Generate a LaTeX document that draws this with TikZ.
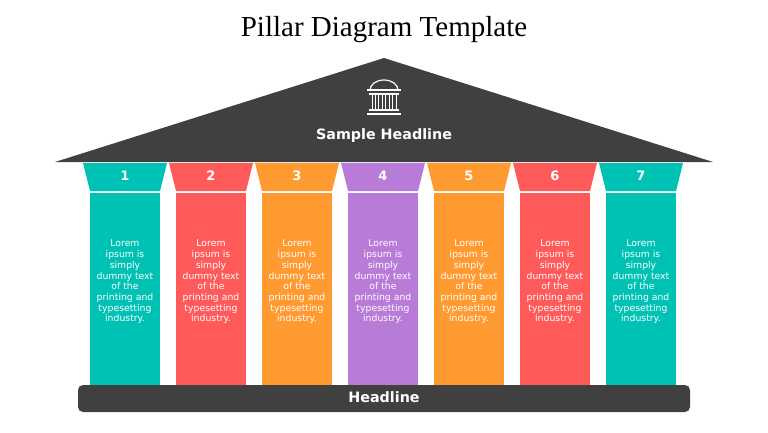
\documentclass[tikz,border=0pt]{standalone}
\usepackage{fontspec}
\setmainfont{DejaVu Sans}
\newfontfamily\titlefont{Liberation Serif}
\definecolor{cteal}{RGB}{0,194,180}
\definecolor{cred}{RGB}{255,90,90}
\definecolor{corange}{RGB}{255,154,48}
\definecolor{cpurple}{RGB}{185,123,216}
\definecolor{cdark}{RGB}{64,64,64}
\tikzset{
  body/.style={font=\fontsize{9.3}{10.7}\selectfont, text=white, align=center},
  num/.style={font=\fontsize{13}{15}\selectfont\bfseries, text=white},
  head/.style={font=\fontsize{14.3}{16}\selectfont\bfseries, text=white},
}
\begin{document}
\begin{tikzpicture}[x=1pt,y=-1pt]
\useasboundingbox (0,0) rectangle (768,433);
\node[font=\titlefont\fontsize{29}{32}\selectfont] (title) at (384,30) {Pillar Diagram Template};
\fill[cdark] (384,58) -- (713,162) -- (55,162) -- cycle;
\node[head] (sh) at (384,136) {Sample Headline};
% icon
\begin{scope}[draw=white, line width=1.2pt]
\draw (370,90) arc[start angle=180,end angle=360,x radius=14,y radius=10];
\draw (367,90) -- (401,90);
\draw (369,94) -- (399,94);
\foreach \i in {0,...,7} \draw[line width=0.8pt] (372+\i*3.43,94) -- (372+\i*3.43,110);
\draw (369,110) -- (399,110);
\draw (367,114) -- (401,114);
\end{scope}
\fill[cdark, rounded corners=5pt] (78,385) rectangle (690,412);
\node[head] (hl) at (384,397) {Headline};
\foreach \c/\col [count=\n] in {125/cteal,211/cred,297/corange,383/cpurple,469/corange,555/cred,641/cteal}{
  \fill[\col] (\c-42,163) -- (\c+42,163) -- (\c+35,191) -- (\c-35,191) -- cycle;
  \fill[\col] (\c-35,193) rectangle (\c+35,385);
  \node[num] (n\n) at (\c,176) {\n};
  \node[body] (t\n) at (\c,282) {Lorem\\ipsum is\\simply\\dummy text\\of the\\printing and\\typesetting\\industry.};
}
\end{tikzpicture}
\end{document}
